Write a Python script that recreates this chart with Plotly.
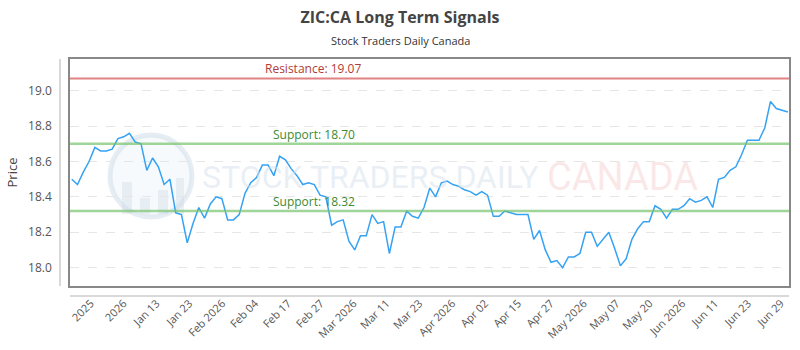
import plotly.graph_objects as go

# ---- data ----
prices = [
    18.50, 18.47, 18.54, 18.60, 18.68, 18.66, 18.66, 18.67, 18.73, 18.74,
    18.76, 18.71, 18.70, 18.55, 18.62, 18.57, 18.47, 18.50, 18.31, 18.30,
    18.14, 18.25, 18.34, 18.28, 18.36, 18.40, 18.39, 18.27, 18.27, 18.30,
    18.42, 18.48, 18.51, 18.58, 18.58, 18.52, 18.63, 18.61, 18.56, 18.52,
    18.47, 18.48, 18.47, 18.41, 18.40, 18.24, 18.26, 18.27, 18.15, 18.10,
    18.18, 18.18, 18.30, 18.25, 18.26, 18.08, 18.23, 18.23, 18.32, 18.29,
    18.28, 18.34, 18.45, 18.40, 18.48, 18.49, 18.47, 18.46, 18.44, 18.43,
    18.41, 18.43, 18.41, 18.29, 18.29, 18.32, 18.31, 18.30, 18.30, 18.30,
    18.16, 18.21, 18.10, 18.03, 18.04, 18.00, 18.06, 18.06, 18.08, 18.20,
    18.20, 18.12, 18.16, 18.20, 18.11, 18.01, 18.05, 18.16, 18.22, 18.26,
    18.26, 18.35, 18.33, 18.28, 18.33, 18.33, 18.35, 18.39, 18.37, 18.38,
    18.40, 18.34, 18.50, 18.51, 18.55, 18.57, 18.64, 18.72, 18.72, 18.72,
    18.79, 18.94, 18.90, 18.89, 18.88,
]
tick_labels = ["2025", "2026", "Jan 13", "Jan 23", "Feb 2026", "Feb 04", "Feb 17",
               "Feb 27", "Mar 2026", "Mar 11", "Mar 23", "Apr 2026", "Apr 02",
               "Apr 15", "Apr 27", "May 2026", "May 07", "May 20", "Jun 2026",
               "Jun 11", "Jun 23", "Jun 29"]
resistance = 19.07
supports = [18.70, 18.32]

x_idx = list(range(len(prices)))
n_t = len(tick_labels)
t_first, t_last = 3.3, 122.8
tick_pos = [t_first + i * (t_last - t_first) / (n_t - 1) for i in range(n_t)]

fig = go.Figure()
fig.add_trace(go.Scatter(x=x_idx, y=prices, mode="lines",
                         line=dict(color="#35a2f4", width=1.5),
                         hoverinfo="skip", showlegend=False))

L, R, T, B = 70, 11, 59, 64
W, H = 800, 350
pw = W - L - R
ph = H - T - B

def px_x(p):
    return (p - L) / pw

def px_y(p):
    return 1 - (p - T) / ph

shapes = []
shapes.append(dict(type="line", xref="paper", yref="y", x0=0, x1=1, y0=resistance, y1=resistance,
                   line=dict(color="rgba(215,90,90,0.75)", width=2), layer="above"))
for s in supports:
    shapes.append(dict(type="line", xref="paper", yref="y", x0=0, x1=1, y0=s, y1=s,
                       line=dict(color="rgba(120,195,110,0.7)", width=2.5), layer="above"))
shapes.append(dict(type="line", xref="paper", yref="paper", x0=px_x(60), x1=px_x(60),
                   y0=0, y1=1, line=dict(color="#cccccc", width=1.5)))
shapes.append(dict(type="line", xref="paper", yref="paper", x0=0, x1=1,
                   y0=px_y(296), y1=px_y(296), line=dict(color="#cccccc", width=1.5)))
cx, cy, r = 151, 176, 41
shapes.append(dict(type="circle", xref="paper", yref="paper",
                   x0=px_x(cx - r), x1=px_x(cx + r), y0=px_y(cy + r), y1=px_y(cy - r),
                   line=dict(color="rgba(205,220,232,0.5)", width=5),
                   fillcolor="rgba(228,237,244,0.3)", layer="below"))
for bx0, bx1, by in [(122, 132, 182), (140, 150, 198), (158, 168, 190), (176, 184, 178)]:
    shapes.append(dict(type="rect", xref="paper", yref="paper",
                       x0=px_x(bx0), x1=px_x(bx1), y0=px_y(214), y1=px_y(by),
                       line=dict(width=0), fillcolor="rgba(205,218,230,0.4)", layer="below"))

wm_font = "Roboto, sans-serif"
annotations = [
    dict(text="STOCK TRADERS DAILY", xref="paper", yref="paper", x=px_x(200), y=px_y(177),
         xanchor="left", yanchor="middle", showarrow=False,
         font=dict(family=wm_font, size=32, color="rgba(212,224,235,0.5)")),
    dict(text="CANADA", xref="paper", yref="paper", x=px_x(545), y=px_y(177),
         xanchor="left", yanchor="middle", showarrow=False,
         font=dict(family=wm_font, size=38, color="rgba(245,200,200,0.42)")),
    dict(text=f"Resistance: {resistance:.2f}", xref="paper", yref="y", x=px_x(263), y=resistance,
         xanchor="left", yanchor="bottom", showarrow=False, yshift=-1,
         font=dict(family="Open Sans, sans-serif", size=12, color="#b23a3a")),
]
for s in supports:
    annotations.append(dict(text=f"Support: {s:.2f}", xref="paper", yref="y", x=px_x(271), y=s,
                            xanchor="left", yanchor="bottom", showarrow=False, yshift=-1,
                            font=dict(family="Open Sans, sans-serif", size=12, color="#3d8a32")))
annotations.append(dict(text="Stock Traders Daily Canada", xref="paper", yref="paper",
                        x=px_x(400), y=px_y(40),
                        xanchor="center", yanchor="middle", showarrow=False,
                        font=dict(family="Open Sans, sans-serif", size=11, color="#333")))

fig.update_layout(
    width=W, height=H,
    margin=dict(l=L, r=R, t=T, b=B, autoexpand=False),
    paper_bgcolor="white", plot_bgcolor="white",
    title=dict(text="<b>ZIC:CA Long Term Signals</b>", x=0.5, xanchor="center",
               y=1 - 17 / H, yanchor="middle",
               font=dict(family="Open Sans, sans-serif", size=16, color="#444")),
    shapes=shapes, annotations=annotations,
    xaxis=dict(range=[-0.3, 124.2], tickmode="array", tickvals=tick_pos, ticktext=tick_labels,
               tickangle=-45, showgrid=False, zeroline=False, showline=True, mirror=True,
               linecolor="#888", linewidth=1.5, ticks="", ticklabelstandoff=5,
               automargin=False,
               tickfont=dict(family="Open Sans, sans-serif", size=11, color="#555")),
    yaxis=dict(range=[17.896, 19.18], tickmode="array",
               tickvals=[18.0, 18.2, 18.4, 18.6, 18.8, 19.0],
               ticktext=["18.0", "18.2", "18.4", "18.6", "18.8", "19.0"],
               showgrid=True, gridcolor="#e6e6e6", griddash="dash", gridwidth=1,
               zeroline=False, showline=True, mirror=True, linecolor="#888", linewidth=1.5,
               ticks="", ticklabelstandoff=14, automargin=False,
               title=dict(text="Price", standoff=8,
                          font=dict(family="Open Sans, sans-serif", size=13, color="#444")),
               tickfont=dict(family="Open Sans, sans-serif", size=12, color="#555")),
)

fig.write_html("out.html")
